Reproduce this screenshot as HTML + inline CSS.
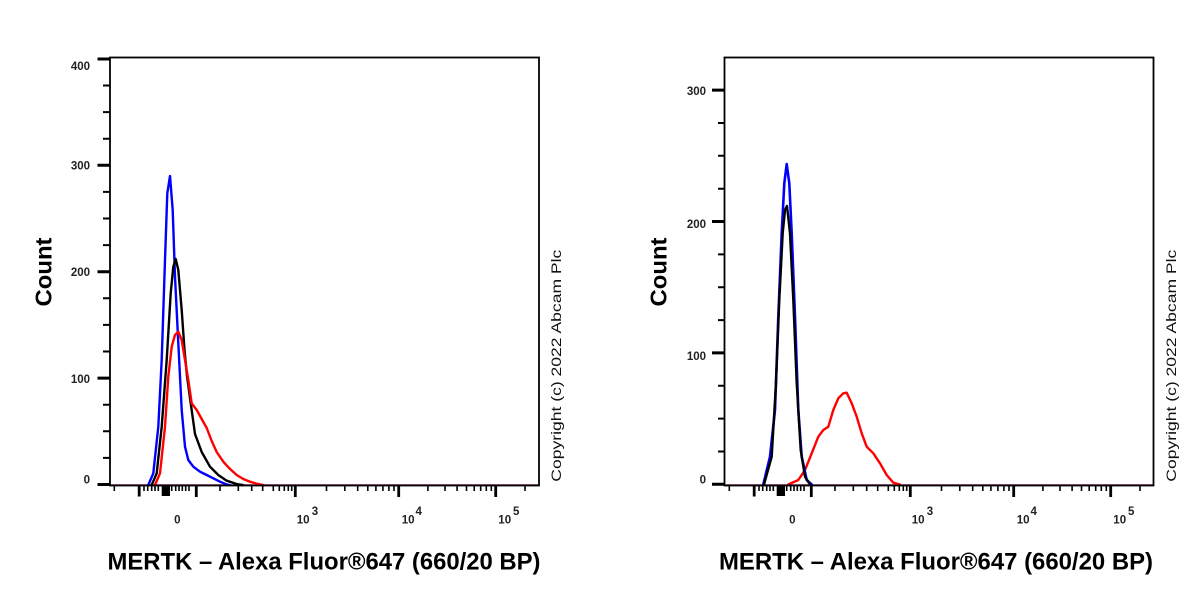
<!DOCTYPE html>
<html>
<head>
<meta charset="utf-8">
<style>
html,body{margin:0;padding:0;background:#fff;}
svg{display:block;}
text{font-family:"Liberation Sans",Arial,sans-serif;}
.tl{font-size:11.5px;font-weight:bold;fill:#222;}
.ttl{font-size:24px;font-weight:bold;fill:#000;}
.cnt{font-size:23px;font-weight:bold;fill:#000;}
.cp{font-size:14px;fill:#111;}
</style>
</head>
<body>
<svg width="1200" height="600" viewBox="0 0 1200 600" xmlns="http://www.w3.org/2000/svg">
<rect width="1200" height="600" fill="#fff"/>

<!-- ================= LEFT PLOT ================= -->
<g>
  <line x1="111" y1="484.6" x2="538" y2="484.6" stroke="#c97aa8" stroke-width="1.2"/>
  <polyline fill="none" stroke="#0000ff" stroke-width="2.4" stroke-linejoin="round" stroke-linecap="round"
    points="148.3,485 153.3,473.3 158.3,426.7 161.7,360 165,260 167.3,193.3 170,176 172.7,210 175,276.7 178.3,343 181.7,410 185,446.7 188.3,460 193.3,466.7 200,471.7 206.7,475 213.3,478.3 220,481.7 226.7,484.5 230,485"/>
  <polyline fill="none" stroke="#000" stroke-width="2.4" stroke-linejoin="round" stroke-linecap="round"
    points="151.7,485 156.7,473.3 161.7,426.7 166.7,360 170.7,293.3 173.3,266.7 175.7,259 178.3,270 181.7,310 184.5,350 187,376 190,398 195,434 201.7,452 210,466.7 218.3,475 226.7,480.7 236.7,484 243,485"/>
  <polyline fill="none" stroke="#ff0000" stroke-width="2.4" stroke-linejoin="round" stroke-linecap="round"
    points="155,485 160,473.3 165,426.7 168.3,376.7 171.7,346.7 175,335 178.3,331.7 181.7,340 185,360 188.3,380 191.7,403.3 196.7,410 201.7,419 206.7,428 211.7,441 216.7,452 223.3,461.7 229,468 236.7,475 243.3,479 250,481.7 256,483.5 263.3,485"/>
  <rect x="110" y="57.5" width="429" height="428" fill="none" stroke="#000" stroke-width="1.8"/>
  <path stroke="#000" stroke-width="3" fill="none"
    d="M97.5,484.5H110 M97.5,378.1H110 M97.5,271.7H110 M97.5,165.3H110 M97.5,59H110"/>
  <path stroke="#000" stroke-width="2" fill="none"
    d="M103,457.9H110 M103,431.3H110 M103,404.7H110 M103,351.5H110 M103,324.9H110 M103,298.3H110 M103,245.1H110 M103,218.5H110 M103,191.9H110 M103,138.7H110 M103,112.1H110 M103,85.5H110"/>
  <text class="tl" x="90" y="70" text-anchor="end">400</text>
  <text class="tl" x="90" y="169.5" text-anchor="end">300</text>
  <text class="tl" x="90" y="276" text-anchor="end">200</text>
  <text class="tl" x="90" y="383" text-anchor="end">100</text>
  <text class="tl" x="90" y="483.5" text-anchor="end">0</text>
  <text class="cnt" transform="translate(51.5,272) rotate(-90)" text-anchor="middle" textLength="69" lengthAdjust="spacingAndGlyphs">Count</text>
  <text class="cp" transform="translate(561,481.7) rotate(-90)" textLength="232" lengthAdjust="spacingAndGlyphs">Copyright (c) 2022 Abcam Plc</text>
  <text class="ttl" x="107.5" y="569.5" textLength="433" lengthAdjust="spacingAndGlyphs">MERTK – Alexa Fluor®647 (660/20 BP)</text>
</g>

<g>
  <path stroke="#000" stroke-width="1.6" fill="none"
    d="M114.3,486V491 M144,486V491 M147.7,486V491 M151.7,486V491 M155,486V491 M158.3,486V491 M171.7,486V491 M175.7,486V491 M179,486V491 M182.3,486V491 M185.7,486V491 M189,486V491 M220,486V491 M238.3,486V491 M251.7,486V491 M262.7,486V491 M273.3,486V491 M279.3,486V491 M284.3,486V491 M288.3,486V491 M291.7,486V491 M326.5,486V491 M344.8,486V491 M357.7,486V491 M367.8,486V491 M375.9,486V491 M382.9,486V491 M388.9,486V491 M394,486V491 M427.9,486V491 M445,486V491 M457.1,486V491 M466.5,486V491 M474.2,486V491 M480.7,486V491 M486.3,486V491 M491.3,486V491 M525,486V491"/>
  <path stroke="#000" stroke-width="2.8" fill="none"
    d="M139.2,486V496.5 M196.3,486V497 M295.3,486V497 M398.7,486V497 M495.7,486V497"/>
  <rect x="161.7" y="486" width="8.3" height="10" fill="#000"/>
  <text class="tl" x="177.3" y="523.5" text-anchor="middle">0</text>
  <text class="tl" x="296.7" y="523.5">10</text><text class="tl" x="311.7" y="515">3</text>
  <text class="tl" x="401.7" y="523.5">10</text><text class="tl" x="415.5" y="515">4</text>
  <text class="tl" x="498.3" y="523.5">10</text><text class="tl" x="513" y="515">5</text>
</g>
<g transform="translate(615,0)">
  <path stroke="#000" stroke-width="1.6" fill="none"
    d="M114.3,486V491 M144,486V491 M147.7,486V491 M151.7,486V491 M155,486V491 M158.3,486V491 M171.7,486V491 M175.7,486V491 M179,486V491 M182.3,486V491 M185.7,486V491 M189,486V491 M220,486V491 M238.3,486V491 M251.7,486V491 M262.7,486V491 M273.3,486V491 M279.3,486V491 M284.3,486V491 M288.3,486V491 M291.7,486V491 M326.5,486V491 M344.8,486V491 M357.7,486V491 M367.8,486V491 M375.9,486V491 M382.9,486V491 M388.9,486V491 M394,486V491 M427.9,486V491 M445,486V491 M457.1,486V491 M466.5,486V491 M474.2,486V491 M480.7,486V491 M486.3,486V491 M491.3,486V491 M525,486V491"/>
  <path stroke="#000" stroke-width="2.8" fill="none"
    d="M139.2,486V496.5 M196.3,486V497 M295.3,486V497 M398.7,486V497 M495.7,486V497"/>
  <rect x="161.7" y="486" width="8.3" height="10" fill="#000"/>
  <text class="tl" x="177.3" y="523.5" text-anchor="middle">0</text>
  <text class="tl" x="296.7" y="523.5">10</text><text class="tl" x="311.7" y="515">3</text>
  <text class="tl" x="401.7" y="523.5">10</text><text class="tl" x="415.5" y="515">4</text>
  <text class="tl" x="498.3" y="523.5">10</text><text class="tl" x="513" y="515">5</text>
</g>

<!-- ================= RIGHT PLOT ================= -->
<g>
  <line x1="725" y1="484.6" x2="1153" y2="484.6" stroke="#c97aa8" stroke-width="1.2"/>
  <polyline fill="none" stroke="#ff0000" stroke-width="2.4" stroke-linejoin="round" stroke-linecap="round"
    points="788.3,484.5 798.3,480 805,470 811.7,453.3 818.3,436.7 823.3,430 828.3,426.7 833.3,410 838.3,398.3 843.3,393.3 846.7,392.7 851.7,403.3 856.7,416.7 861.7,433.3 866.7,446.7 873.3,453.3 880,463.3 886.7,475 893.3,482.7 900,484.5"/>
  <polyline fill="none" stroke="#0000ff" stroke-width="2.6" stroke-linejoin="round" stroke-linecap="round"
    points="763.3,484.5 770,456.7 775,410 778.3,316.7 781.7,233.3 784.3,183.3 786.7,164 789.3,183.3 791.7,233.3 795,316.7 798.3,410 801.7,456.7 806.7,480 811.7,484.5"/>
  <polyline fill="none" stroke="#000" stroke-width="2.4" stroke-linejoin="round" stroke-linecap="round"
    points="764,484.5 771.7,456.7 776,383 779.3,300 782.7,233.3 785,210 787,206 790,233.3 793.3,300 796.7,383 800.7,450 805,476.7 810,484.5"/>
  <rect x="724.5" y="57.5" width="429" height="428" fill="none" stroke="#000" stroke-width="1.8"/>
  <path stroke="#000" stroke-width="3" fill="none"
    d="M712,484.3H724.5 M712,352.9H724.5 M712,221.5H724.5 M712,90.1H724.5"/>
  <path stroke="#000" stroke-width="2" fill="none"
    d="M718,451.5H724.5 M718,418.6H724.5 M718,385.8H724.5 M718,320.1H724.5 M718,287.2H724.5 M718,254.4H724.5 M718,188.7H724.5 M718,155.8H724.5 M718,123H724.5"/>
  <text class="tl" x="706" y="95" text-anchor="end">300</text>
  <text class="tl" x="706" y="228" text-anchor="end">200</text>
  <text class="tl" x="706" y="360" text-anchor="end">100</text>
  <text class="tl" x="706" y="483.5" text-anchor="end">0</text>
  <text class="cnt" transform="translate(666.5,272) rotate(-90)" text-anchor="middle" textLength="69" lengthAdjust="spacingAndGlyphs">Count</text>
  <text class="cp" transform="translate(1176,481.7) rotate(-90)" textLength="232" lengthAdjust="spacingAndGlyphs">Copyright (c) 2022 Abcam Plc</text>
  <text class="ttl" x="719" y="569.5" textLength="434" lengthAdjust="spacingAndGlyphs">MERTK – Alexa Fluor®647 (660/20 BP)</text>
</g>
</svg>
</body>
</html>
